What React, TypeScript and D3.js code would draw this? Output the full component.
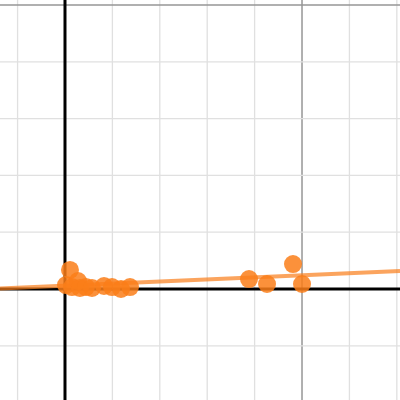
import React from "react";
import * as d3 from "d3";

const W = 400;
const H = 400;

const xDomain = [-1.371, 7.067];
const yDomain = [-1.954, 5.088];

const pointsX = [0.105, 0.021, 0.148, 0.274, 0.316, 0.443, 0.57, 0.823, 0.992, 1.181, 1.371, 3.882, 4.262, 4.81, 5.0];
const pointsY = [0.335, 0.07, 0.035, 0.141, 0.018, 0.035, 0.018, 0.053, 0.035, 0.0, 0.035, 0.176, 0.088, 0.44, 0.088];

const trendX = [-1.371, 7.067];
const trendY = [0.009, 0.317];

const gridX = [-1, 1, 2, 3, 4, 5, 6, 7];
const gridY = [-1, 1, 2, 3, 4, 5];

export default function App() {
  const x = d3.scaleLinear().domain(xDomain).range([0, W]);
  const y = d3.scaleLinear().domain(yDomain).range([H, 0]);
  const line = d3
    .line<number>()
    .x((d) => x(d))
    .y((_, i) => y(trendY[i]));

  return (
    <svg
      width={W}
      height={H}
      style={{ position: "fixed", left: 0, top: 0, background: "#fff" }}
    >
      {gridX.map((g) => (
        <line
          key={"gx" + g}
          x1={x(g)}
          x2={x(g)}
          y1={0}
          y2={H}
          stroke={g % 5 === 0 ? "#969696" : "#e0e0e0"}
          strokeWidth={g % 5 === 0 ? 1.5 : 1.3}
        />
      ))}
      {gridY.map((g) => (
        <line
          key={"gy" + g}
          x1={0}
          x2={W}
          y1={y(g)}
          y2={y(g)}
          stroke={g % 5 === 0 ? "#969696" : "#e0e0e0"}
          strokeWidth={g % 5 === 0 ? 1.5 : 1.3}
        />
      ))}
      <line x1={x(0)} x2={x(0)} y1={0} y2={H} stroke="#000" strokeWidth={3} />
      <line x1={0} x2={W} y1={y(0)} y2={y(0)} stroke="#000" strokeWidth={3} />
      <path
        d={line(trendX) || ""}
        fill="none"
        stroke="#fa7e19"
        strokeOpacity={0.7}
        strokeWidth={4}
      />
      {pointsX.map((px, i) => (
        <circle
          key={i}
          cx={x(px)}
          cy={y(pointsY[i])}
          r={9}
          fill="#fa7e19"
          fillOpacity={0.85}
        />
      ))}
    </svg>
  );
}
